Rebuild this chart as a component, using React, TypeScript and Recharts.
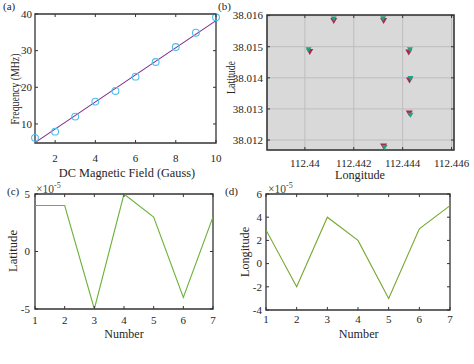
import React from 'react';
import { ComposedChart, LineChart, ScatterChart, Line, Scatter, XAxis, YAxis, CartesianGrid, ReferenceArea } from 'recharts';

// ---------- (a) calibration ----------
const fieldGauss = [1, 2, 3, 4, 5, 6, 7, 8, 9, 10];
const freqMHz = [6.2, 7.9, 12.0, 16.1, 19.0, 22.9, 26.9, 31.0, 34.9, 39.1];
const fitField = [1, 10];
const fitFreq = [4.9, 38.2];
const aXTicks = [2, 4, 6, 8, 10];
const aYTicks = [10, 20, 30, 40];

// ---------- (b) positions ----------
const measLon = [112.4402, 112.44118, 112.44322, 112.44425, 112.44428, 112.44427, 112.44322];
const measLat = [38.01485, 38.01584, 38.01584, 38.01483, 38.01393, 38.01287, 38.01181];
const refLon = [112.44015, 112.44118, 112.4432, 112.4443, 112.44432, 112.44432, 112.44326];
const refLat = [38.0149, 38.01589, 38.0159, 38.0149, 38.01398, 38.0128, 38.01176];
const bXTicks = [112.44, 112.442, 112.444, 112.446];
const bYTicks = [38.012, 38.013, 38.014, 38.015, 38.016];

// ---------- (c),(d) errors (x 1e-5) ----------
const pointNumber = [1, 2, 3, 4, 5, 6, 7];
const latErr = [4, 4, -5, 5, 3, -4, 3];
const lonErr = [2.9, -2, 4, 2, -3, 3, 5];
const cYTicks = [-5, 0, 5];
const dYTicks = [-4, -2, 0, 2, 4, 6];

const FONT = "'Liberation Serif', 'Times New Roman', serif";
const TXT = '#262626';
const FRAME = '#333333';

const scatterA = fieldGauss.map((x, i) => ({ x, y: freqMHz[i] }));
const fitA = fitField.map((x, i) => ({ x, y: fitFreq[i] }));
const measB = measLon.map((x, i) => ({ x, y: measLat[i] }));
const refB = refLon.map((x, i) => ({ x, y: refLat[i] }));
const rowsC = pointNumber.map((n, i) => ({ n, v: latErr[i] }));
const rowsD = pointNumber.map((n, i) => ({ n, v: lonErr[i] }));

function makeXTick(plotH: number, dy: number) {
  return (props: any) => {
    const { x, y, payload } = props;
    return (
      <g>
        <line x1={x} x2={x} y1={y} y2={y - 3} stroke={FRAME} strokeWidth={1} />
        <line x1={x} x2={x} y1={y - plotH} y2={y - plotH + 3} stroke={FRAME} strokeWidth={1} />
        <text x={x} y={y + dy} textAnchor="middle" style={{ fontFamily: FONT }} fontSize={11} fill={TXT}>
          {String(payload.value)}
        </text>
      </g>
    );
  };
}

function makeYTick(plotW: number, gap: number) {
  return (props: any) => {
    const { x, y, payload } = props;
    return (
      <g>
        <line x1={x} x2={x + 3} y1={y} y2={y} stroke={FRAME} strokeWidth={1} />
        <line x1={x + plotW} x2={x + plotW - 3} y1={y} y2={y} stroke={FRAME} strokeWidth={1} />
        <text x={x - gap} y={y + 3.8} textAnchor="end" style={{ fontFamily: FONT }} fontSize={11} fill={TXT}>
          {String(payload.value)}
        </text>
      </g>
    );
  };
}

const OpenCircle = (p: any) => (
  <circle cx={p.cx} cy={p.cy} r={3.4} fill="none" stroke="#4dbeee" strokeWidth={1.1} />
);
const RedTri = (p: any) => (
  <path d={`M${p.cx - 3.5},${p.cy - 2.5} L${p.cx + 3.5},${p.cy - 2.5} L${p.cx},${p.cy + 3.5} Z`} fill="#a8294e" />
);
const TealTri = (p: any) => (
  <path d={`M${p.cx - 3},${p.cy - 2.5} L${p.cx + 3},${p.cy - 2.5} L${p.cx},${p.cy + 2.5} Z`} fill="#22a083" />
);

const abs = (left: number, top: number): React.CSSProperties => ({ position: 'absolute', left, top });

export default function App() {
  return (
    <div style={{ position: 'absolute', left: 0, top: 0, width: 474, height: 364, background: '#fff', overflow: 'hidden' }}>
      {/* (a) */}
      <div style={abs(0, 0)}>
        <ComposedChart width={237} height={182} margin={{ top: 14, right: 21, left: 0, bottom: 0 }}>
          <XAxis type="number" dataKey="x" domain={[1, 10]} ticks={aXTicks} interval={0} height={39}
            axisLine={false} tickLine={false} tickSize={0} tickMargin={0} tick={makeXTick(129, 19)} />
          <YAxis type="number" dataKey="y" domain={[4.8, 40]} ticks={aYTicks} interval={0} width={35}
            axisLine={false} tickLine={false} tickSize={0} tickMargin={0} tick={makeYTick(181, 3)} />
          <Line data={fitA} dataKey="y" type="linear" stroke="#7e2f8e" strokeWidth={1.1} dot={false} isAnimationActive={false} />
          <Scatter data={scatterA} dataKey="y" shape={OpenCircle} isAnimationActive={false} />
          <ReferenceArea x1={1} x2={10} y1={4.8} y2={40} fill="none" stroke={FRAME} strokeWidth={1.3} />
        </ComposedChart>
      </div>

      {/* (b) */}
      <div style={abs(207, 0)}>
        <ScatterChart width={267} height={182} margin={{ top: 15, right: 20, left: 0, bottom: 0 }}>
          <CartesianGrid fill="#d9d9d9" fillOpacity={1} stroke="#bdbdbd" strokeWidth={1} />
          <XAxis type="number" dataKey="x" domain={[112.43845, 112.4461]} ticks={bXTicks} interval={0} height={32}
            allowDataOverflow axisLine={false} tickLine={false} tickSize={0} tickMargin={0} tick={makeXTick(135, 17)} />
          <YAxis type="number" dataKey="y" domain={[38.01168, 38.01602]} ticks={bYTicks} interval={0} width={60}
            allowDataOverflow axisLine={false} tickLine={false} tickSize={0} tickMargin={0} tick={makeYTick(187, 4)} />
          <Scatter data={measB} shape={RedTri} isAnimationActive={false} />
          <Scatter data={refB} shape={TealTri} isAnimationActive={false} />
          <ReferenceArea x1={112.43845} x2={112.4461} y1={38.01168} y2={38.01602} fill="none" stroke={FRAME} strokeWidth={1.5} />
        </ScatterChart>
      </div>

      {/* (c) */}
      <div style={abs(0, 175)}>
        <LineChart width={237} height={189} data={rowsC} margin={{ top: 19, right: 24, left: 0, bottom: 0 }}>
          <XAxis type="number" dataKey="n" domain={[1, 7]} ticks={pointNumber} interval={0} height={55}
            allowDataOverflow axisLine={false} tickLine={false} tickSize={0} tickMargin={0} tick={makeXTick(115, 14.5)} />
          <YAxis type="number" domain={[-5, 5]} ticks={cYTicks} interval={0} width={35}
            allowDataOverflow axisLine={false} tickLine={false} tickSize={0} tickMargin={0} tick={makeYTick(178, 5)} />
          <Line dataKey="v" type="linear" stroke="#6ab23a" strokeWidth={1.1} dot={false} isAnimationActive={false} />
          <ReferenceArea x1={1} x2={7} y1={-5} y2={5} fill="none" stroke={FRAME} strokeWidth={1.3} />
        </LineChart>
      </div>

      {/* (d) */}
      <div style={abs(237, 175)}>
        <LineChart width={237} height={189} data={rowsD} margin={{ top: 19, right: 24, left: 0, bottom: 0 }}>
          <XAxis type="number" dataKey="n" domain={[1, 7]} ticks={pointNumber} interval={0} height={54}
            allowDataOverflow axisLine={false} tickLine={false} tickSize={0} tickMargin={0} tick={makeXTick(116, 13)} />
          <YAxis type="number" domain={[-4, 6]} ticks={dYTicks} interval={0} width={29}
            allowDataOverflow axisLine={false} tickLine={false} tickSize={0} tickMargin={0} tick={makeYTick(184, 4)} />
          <Line dataKey="v" type="linear" stroke="#77a830" strokeWidth={1.1} dot={false} isAnimationActive={false} />
          <ReferenceArea x1={1} x2={7} y1={-4} y2={6} fill="none" stroke={FRAME} strokeWidth={1.3} />
        </LineChart>
      </div>

      {/* titles and panel labels */}
      <svg width={474} height={364} style={{ position: 'absolute', left: 0, top: 0, pointerEvents: 'none', fontFamily: FONT }}
        fill={TXT}>
        <text x={3} y={10} fontSize={11}>(a)</text>
        <text x={218} y={10} fontSize={11}>(b)</text>
        <text x={7} y={195} fontSize={11}>(c)</text>
        <text x={225} y={195} fontSize={11}>(d)</text>

        <text x={127} y={177} fontSize={12.3} textAnchor="middle">DC Magnetic Field (Gauss)</text>
        <text x={360} y={179} fontSize={12.2} textAnchor="middle">Longitude</text>
        <text x={124} y={337.5} fontSize={12} textAnchor="middle">Number</text>
        <text x={358.7} y={337.5} fontSize={12.2} textAnchor="middle">Number</text>

        <text transform="translate(15,89) rotate(-90)" fontSize={12.3} textAnchor="middle" dominantBaseline="central"
          textLength={71} lengthAdjust="spacingAndGlyphs">Frequency (MHz)</text>
        <text transform="translate(231,77.5) rotate(-90)" fontSize={12.3} textAnchor="middle" dominantBaseline="central"
          textLength={33} lengthAdjust="spacingAndGlyphs">Latitude</text>
        <text transform="translate(12.5,251) rotate(-90)" fontSize={12.6} textAnchor="middle" dominantBaseline="central">Latitude</text>
        <text transform="translate(244.5,252) rotate(-90)" fontSize={12.2} textAnchor="middle" dominantBaseline="central">Longitude</text>

        <text x={36} y={193} fontSize={11.5} fill="#444">×10<tspan dy={-5} fontSize={8}>-5</tspan></text>
        <text x={268} y={193} fontSize={11.5} fill="#444">×10<tspan dy={-5} fontSize={8}>-5</tspan></text>
      </svg>
    </div>
  );
}
